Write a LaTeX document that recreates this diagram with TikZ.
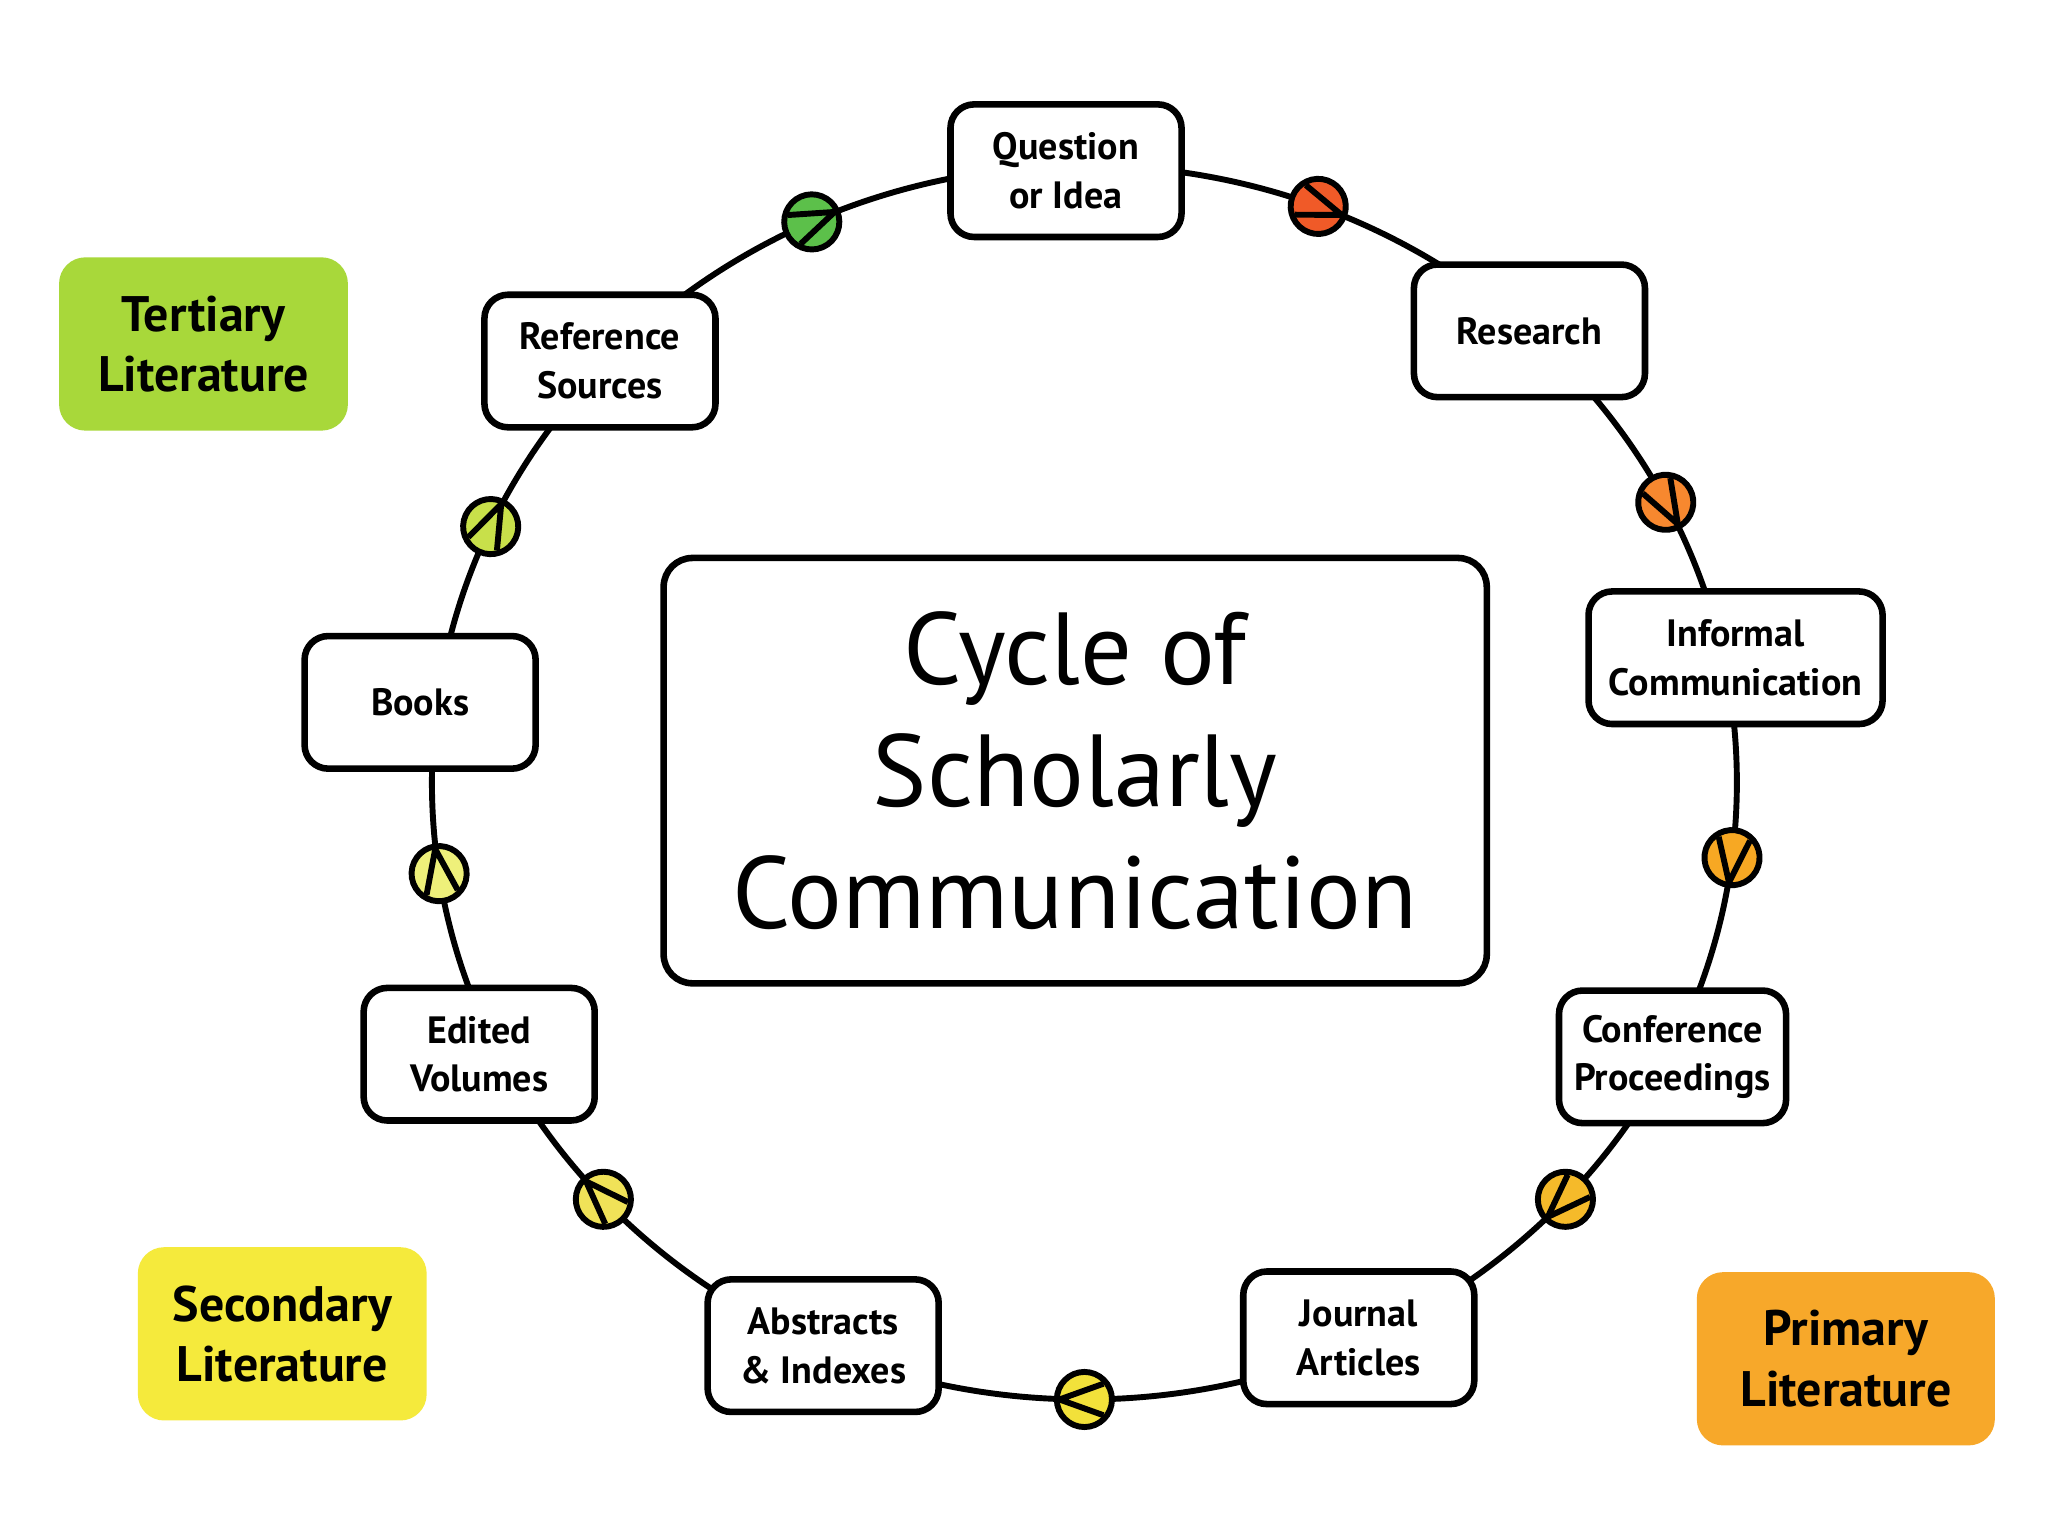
\documentclass[tikz,border=0pt]{standalone}
\usepackage{fontspec}
\usetikzlibrary{calc}
\setmainfont{PT Sans}
\definecolor{cgreen}{HTML}{5CC04A}
\definecolor{cred}{HTML}{F05A28}
\definecolor{corange}{HTML}{F7882F}
\definecolor{coy}{HTML}{F7A823}
\definecolor{cyo}{HTML}{F5BA2A}
\definecolor{cyel}{HTML}{F2E13A}
\definecolor{cyel2}{HTML}{F0E258}
\definecolor{cly}{HTML}{EEF07A}
\definecolor{cyg}{HTML}{C8E04A}
\definecolor{ltert}{HTML}{A8D83A}
\definecolor{lsec}{HTML}{F5EA3C}
\definecolor{lprim}{HTML}{F7A82A}
\tikzset{
  x=1pt,y=1pt,
  stagebox/.style={draw=black,line width=5pt,fill=white,rounded corners=18pt,minimum width=176pt,minimum height=101pt,align=center,font=\fontsize{29}{37}\selectfont\bfseries},
  litbox/.style={rounded corners=20pt,minimum width=220pt,minimum height=132pt,align=center,font=\fontsize{38}{46}\selectfont\bfseries},
  marker/.pic={
    \fill[#1] (0,0) circle (21);
    \draw[line width=4.5pt] (0,0) circle (21);
    \draw[line width=4.5pt] (-14.5,12) -- (19,0) -- (-14.5,-12);
  }
}
\begin{document}
\begin{tikzpicture}
\useasboundingbox (0,0) rectangle (1560,-1170);
\fill[white] (0,0) rectangle (1560,-1170);
\coordinate (C) at (826,-596);
\draw[line width=4.5pt] (C) ellipse [x radius=497, y radius=470];
\foreach \t/\a/\c in {114.7/23.5/cgreen, 69/-20/cred, 27/-61/corange, -7/-97/coy, -42.5/-135/cyo, -90/180/cyel, -137.5/134/cyel2, -171.5/99/cly, 155.5/65/cyg}{
  \path ($(C)+(\t:497 and 470)$) pic[rotate=\a] {marker=\c};
}
\node[stagebox] (q) at (812,-130) {Question\\or Idea};
\node[stagebox] (r) at (1165,-252) {Research};
\node[stagebox,minimum width=224pt] (i) at (1322,-501) {Informal\\Communication};
\node[stagebox,minimum width=173pt,inner sep=2pt] (cp) at (1274,-805) {Conference\\Proceedings};
\node[stagebox] (j) at (1035,-1019) {Journal\\Articles};
\node[stagebox] (a) at (627,-1025) {Abstracts\\\& Indexes};
\node[stagebox] (e) at (365,-803) {Edited\\Volumes};
\node[stagebox] (b) at (320,-535) {Books};
\node[stagebox] (rs) at (457,-275) {Reference\\Sources};
\node[draw=black,line width=5pt,fill=white,rounded corners=22pt,minimum width=627pt,minimum height=324pt,align=center,font=\fontsize{78}{93}\selectfont] (t) at (819,-587) {Cycle of\\Scholarly\\Communication};
\node[litbox,fill=ltert] (tl) at (155,-262) {Tertiary\\Literature};
\node[litbox,fill=lsec] (sl) at (215,-1016) {Secondary\\Literature};
\node[litbox,fill=lprim,minimum width=227pt] (pl) at (1406,-1035) {Primary\\Literature};
\end{tikzpicture}
\end{document}
